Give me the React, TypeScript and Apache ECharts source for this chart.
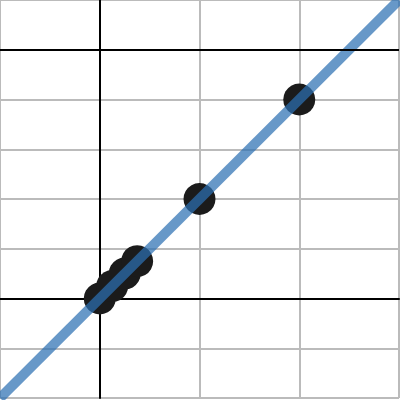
import React, { useEffect, useRef } from 'react';
import * as echarts from 'echarts';

// points
const pointsX = [0, 0.125, 0.25, 0.375, 1, 2];
const pointsY = [0, 0.125, 0.25, 0.375, 1, 2];

// fitted line y = x, end points across the visible range
const lineX = [-1, 3];
const lineY = [-1, 3];

// extra black horizontal line
const refLineY = 2.5;

const App: React.FC = () => {
  const chartRef = useRef<HTMLDivElement>(null);

  useEffect(() => {
    document.body.style.margin = '0';
    if (!chartRef.current) return;
    const chart = echarts.init(chartRef.current, undefined, { renderer: 'svg' });

    const option: echarts.EChartsOption = {
      animation: false,
      backgroundColor: '#ffffff',
      grid: { left: -1, top: -2, width: 400, height: 400, containLabel: false },
      xAxis: {
        type: 'value',
        min: -1,
        max: 3,
        interval: 1,
        axisLine: { show: true, onZero: true, lineStyle: { color: '#000', width: 2 } },
        axisTick: { show: false },
        axisLabel: { show: false },
        splitLine: { show: true, lineStyle: { color: '#bbbbbb', width: 2 } },
      },
      yAxis: {
        type: 'value',
        min: -1,
        max: 3,
        interval: 0.5,
        axisLine: { show: true, onZero: true, lineStyle: { color: '#000', width: 2 } },
        axisTick: { show: false },
        axisLabel: { show: false },
        splitLine: { show: true, lineStyle: { color: '#bbbbbb', width: 2 } },
      },
      series: [
        {
          type: 'scatter',
          data: pointsX.map((x, i) => [x, pointsY[i]]),
          symbolSize: 32,
          itemStyle: { color: '#1b1b1b', opacity: 1 },
          z: 3,
          markLine: {
            silent: true,
            symbol: 'none',
            label: { show: false },
            lineStyle: { color: '#000', width: 2, type: 'solid' },
            data: [{ yAxis: refLineY }],
          },
        },
        {
          type: 'line',
          data: lineX.map((x, i) => [x, lineY[i]]),
          showSymbol: false,
          lineStyle: { color: 'rgba(45,112,179,0.72)', width: 10 },
          z: 4,
        },
      ],
    };

    chart.setOption(option);
    return () => {
      chart.dispose();
    };
  }, []);

  return (
    <div
      ref={chartRef}
      style={{ position: 'absolute', left: 0, top: 0, width: '400px', height: '400px' }}
    ></div>
  );
};

export default App;
